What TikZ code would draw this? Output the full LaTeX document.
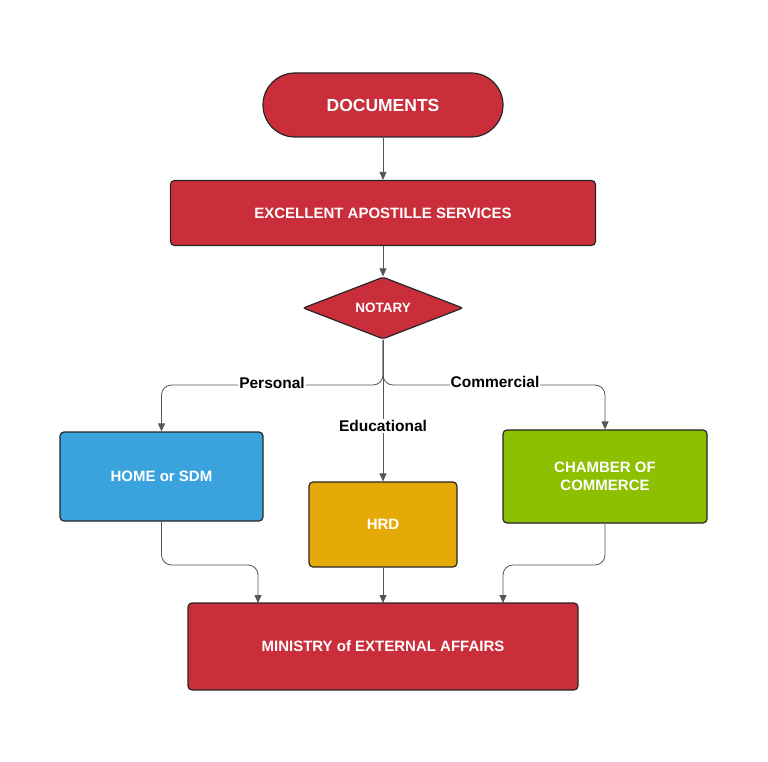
\documentclass[tikz,border=0pt]{standalone}
\usepackage{fontspec}
\setmainfont{Liberation Sans}
\usetikzlibrary{shapes.geometric,arrows.meta}
\definecolor{rd}{HTML}{C92E3A}
\definecolor{bl}{HTML}{3AA3DD}
\definecolor{yl}{HTML}{E5A908}
\definecolor{gr}{HTML}{8DC000}
\definecolor{ln}{HTML}{555555}
\tikzset{
 box/.style={draw=black!85,line width=1.2pt,rounded corners=4pt,text=white,font=\fontsize{15}{18}\selectfont\bfseries,align=center,inner sep=0pt},
 conn/.style={draw=ln,line width=0.8pt,rounded corners=10pt},
 arr/.style={conn,-{Triangle[length=8pt,width=7pt]}},
 lab/.style={font=\fontsize{15.5}{18}\selectfont\bfseries,fill=white,inner sep=1pt}
}
\begin{document}
\begin{tikzpicture}[x=1pt,y=-1pt]
\useasboundingbox (0,0) rectangle (768,762);
\fill[white] (0,0) rectangle (768,762);
\node[box,fill=rd,rounded corners=32pt,minimum width=240pt,minimum height=64pt,font=\fontsize{17.5}{20}\selectfont\bfseries] (doc) at (383,105) {DOCUMENTS};
\node[box,fill=rd,minimum width=425pt,minimum height=65pt] (eas) at (383,213) {EXCELLENT APOSTILLE SERVICES};
\node[box,fill=rd,diamond,rounded corners=2pt,aspect=2.6,minimum width=160pt,minimum height=62pt,font=\fontsize{13.5}{16}\selectfont\bfseries] (not) at (383,308) {NOTARY};
\node[box,fill=bl,minimum width=203pt,minimum height=89pt] (home) at (161.5,476.5) {HOME or SDM};
\node[box,fill=yl,minimum width=148pt,minimum height=85pt] (hrd) at (383,524.5) {HRD};
\node[box,fill=gr,minimum width=204pt,minimum height=93pt] (cham) at (605,476.5) {CHAMBER OF\\COMMERCE};
\node[box,fill=rd,minimum width=390pt,minimum height=87pt] (mea) at (383,646.5) {MINISTRY of EXTERNAL AFFAIRS};
\coordinate (j) at (383,385);
\coordinate (h1) at (258,565);
\coordinate (c1) at (503,565);
\draw[arr] (doc) -- (eas);
\draw[arr] (eas) -- (not);
\draw[arr] (not.south) -- (383,385) -- (161.5,385) -- (home.north);
\draw[arr] (not.south) -- (383,385) -- (605,385) -- (cham.north);
\draw[arr] (not.south) -- (hrd.north);
\draw[arr] (home.south) -- (161.5,565) -- (h1) -- (258,603);
\draw[arr] (hrd.south) -- (383,603);
\draw[arr] (cham.south) -- (605,565) -- (c1) -- (503,603);
\node[lab] (lp) at (272,383) {Personal};
\node[lab] (lc) at (495,382) {Commercial};
\node[lab] (le) at (383,426) {Educational};
\end{tikzpicture}
\end{document}
